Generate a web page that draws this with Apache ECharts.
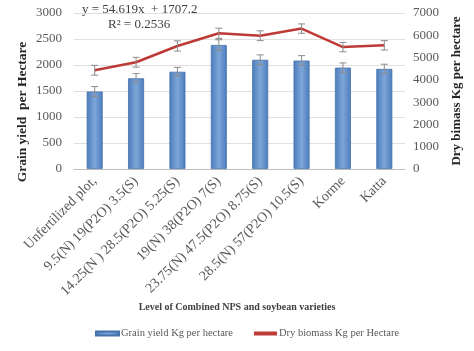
<!DOCTYPE html>
<html lang="en">
<head>
<meta charset="UTF-8">
<title>Grain yield and dry biomass</title>
<script src="https://cdn.jsdelivr.net/npm/echarts@6/dist/echarts.min.js"></script>
<style>html,body{margin:0;padding:0;background:#fff}</style>
</head>
<body>
<div id="main" style="width:474px;height:351px"></div>
<script type="text/javascript">
  var categories = ['Unfertilized plot,', '9.5(N) 19(P2O) 3.5(S)', '14.25(N ) 28.5(P2O) 5.25(S)',
    '19(N) 38(P2O) 7(S)', '23.75(N) 47.5(P2O) 8.75(S)', '28.5(N) 57(P2O) 10.5(S)', 'Korme', 'Katta'];
  var grainYield = [1490, 1745, 1870, 2385, 2100, 2085, 1950, 1925];
  var grainErr = [95, 90, 85, 100, 95, 95, 90, 90];
  var biomass = [4430, 4790, 5520, 6090, 5980, 6300, 5470, 5550];
  var biomassErr = [220, 220, 230, 230, 220, 210, 210, 210];

  var font = 'Liberation Serif, Times New Roman, serif';
  var myChart = echarts.init(document.getElementById('main'));

  function errorItem(values, errs) {
    return function(params, api) {
      var i = api.value(0);
      var top = api.coord([i, values[i] + errs[i]]);
      var bot = api.coord([i, values[i] - errs[i]]);
      var w = 3.5;
      var st = { stroke: '#8c8c8c', lineWidth: 1 };
      return {
        type: 'group',
        children: [
          { type: 'line', shape: { x1: top[0], y1: top[1], x2: bot[0], y2: bot[1] }, style: st },
          { type: 'line', shape: { x1: top[0] - w, y1: top[1], x2: top[0] + w, y2: top[1] }, style: st },
          { type: 'line', shape: { x1: bot[0] - w, y1: bot[1], x2: bot[0] + w, y2: bot[1] }, style: st }
        ]
      };
    };
  }

  function plain(v) { return String(v); }

  var option = {
    animation: false,
    textStyle: { fontFamily: font },
    grid: { left: 74, right: 69, top: 13, bottom: 182, containLabel: false },
    legend: {
      bottom: 7,
      left: 90,
      itemGap: 21,
      itemWidth: 23,
      itemHeight: 4,
      textStyle: { fontFamily: font, fontSize: 10.5, color: '#595959', padding: [0, 0, 0, -3] },
      data: [
        { name: 'Grain yield Kg per hectare', icon: 'rect' },
        { name: 'Dry biomass Kg per Hectare', icon: 'rect' }
      ]
    },
    graphic: [
      { type: 'text', left: 82, top: 3, style: { text: 'y = 54.619x  + 1707.2', font: '13px ' + font, fill: '#404040' } },
      { type: 'text', left: 108, top: 18, style: { text: 'R² = 0.2536', font: '13px ' + font, fill: '#404040' } },
      { type: 'text', left: 'center', top: 302, style: { text: 'Level of Combined NPS and soybean varieties', font: 'bold 10px ' + font, fill: '#404040' } },
      { type: 'text', x: 23, y: 112, rotation: Math.PI / 2,
        style: { text: 'Grain yield  per Hectare', font: 'bold 13.5px ' + font, fill: '#262626', align: 'center', verticalAlign: 'middle' } }
    ],
    xAxis: {
      type: 'category',
      data: categories,
      axisLine: { lineStyle: { color: '#bfbfbf' } },
      axisTick: { show: false },
      axisLabel: { rotate: 45, interval: 0, fontSize: 14, color: '#595959', fontFamily: font, margin: 10 }
    },
    yAxis: [{
      type: 'value',
      min: 0, max: 3000, interval: 500,
      axisLabel: { fontSize: 13, color: '#595959', fontFamily: font, margin: 12, formatter: plain },
      splitLine: { lineStyle: { color: '#e0e0e0' } },
      axisLine: { show: false }
    }, {
      type: 'value',
      min: 0, max: 7000, interval: 1000,
      name: 'Dry bimass Kg per hectare',
      nameLocation: 'middle',
      nameGap: 37,
      nameRotate: 90,
      nameTextStyle: { fontFamily: font, fontWeight: 'bold', fontSize: 13, color: '#262626' },
      axisLabel: { fontSize: 13, color: '#595959', fontFamily: font, margin: 8, formatter: plain },
      splitLine: { show: false },
      axisLine: { show: false }
    }],
    series: [{
      name: 'Grain yield Kg per hectare',
      type: 'bar',
      barWidth: 16,
      data: grainYield,
      itemStyle: {
        color: new echarts.graphic.LinearGradient(0, 0, 1, 0, [
          { offset: 0, color: '#4a7cbc' },
          { offset: 0.5, color: '#7ea6d8' },
          { offset: 1, color: '#4a7cbc' }
        ]),
        borderColor: '#4672ab',
        borderWidth: 0.8
      }
    }, {
      type: 'custom',
      renderItem: errorItem(grainYield, grainErr),
      data: grainYield.map(function(v, i) { return [i, v]; }),
      z: 5,
      silent: true
    }, {
      name: 'Dry biomass Kg per Hectare',
      type: 'line',
      yAxisIndex: 1,
      data: biomass,
      symbol: 'none',
      lineStyle: { color: '#be3a36', width: 2.5 },
      itemStyle: { color: '#be3a36' }
    }, {
      type: 'custom',
      yAxisIndex: 1,
      renderItem: errorItem(biomass, biomassErr),
      data: biomass.map(function(v, i) { return [i, v]; }),
      z: 5,
      silent: true
    }]
  };
  myChart.setOption(option);
</script>
</body>
</html>
